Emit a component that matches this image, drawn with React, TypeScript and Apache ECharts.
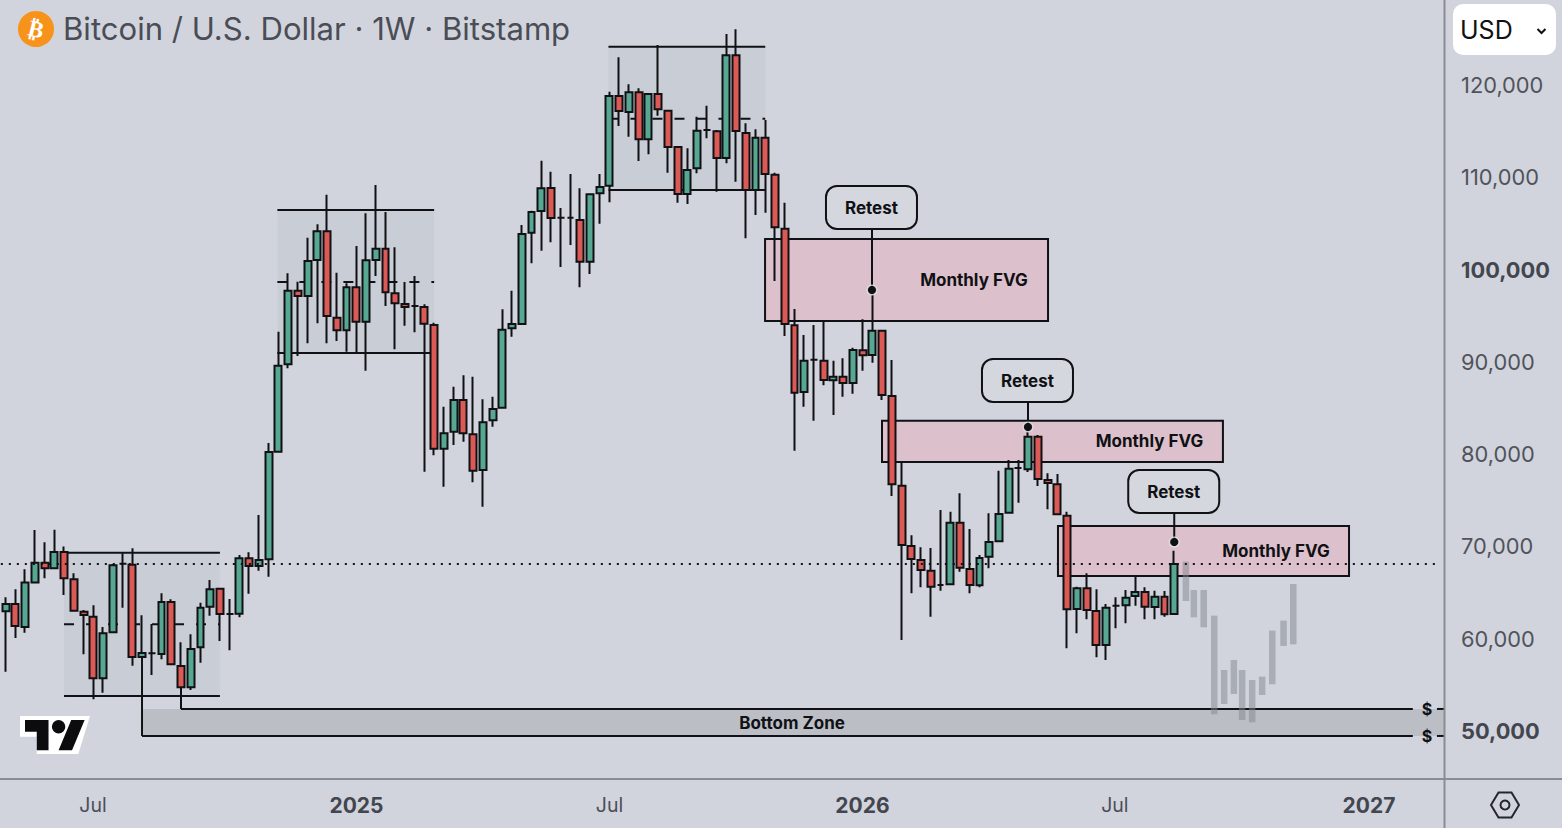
import React, { useEffect, useRef } from "react";
import * as echarts from "echarts";

const opens = [62889,63683,61190,66000,68162,67548,69318,66356,62853,62311,55630,60614,68054,67945,57941,58338,58266,63900,56966,54654,58988,63394,65345,62600,62636,68632,67800,68523,80189,89652,97634,97056,100956,104062,94708,93335,97995,94275,100956,102184,97345,96189,95972,95864,93914,80514,82356,85787,82067,78203,83584,84957,93553,94022,103918,106265,108757,105542,105542,105290,100775,108179,109010,118725,116992,119122,114030,118942,117136,113199,108107,110888,115041,114897,112007,123132,114716,108540,114211,110202,104351,93877,86654,90158,90049,87918,88315,87630,91169,90663,93300,86220,76505,69968,68450,67295,65742,65814,72496,67476,65706,68813,70473,73580,78419,78275,81814,77119,76649,73254,63142,65381,62925,59241,63503,63539,64550,64983,63358,64478,62600];
const closes = [63683,61300,66000,68162,67548,69318,66465,62961,62492,55630,60505,67873,68054,57941,58374,58338,63900,57146,54654,58808,63286,65273,62600,62600,68632,67800,68451,80153,89508,97634,97056,100848,104062,94889,93335,97995,94275,100920,102184,97453,96261,95864,95972,94058,80514,82176,85787,82176,78130,83368,84812,93408,94022,103773,106156,108721,105506,105542,105542,100775,108071,108866,118725,117100,119122,114030,118942,117281,113199,108107,110708,114969,115041,112007,123132,114933,108540,114211,110274,104495,94022,86582,90049,90158,87954,88315,87630,91205,90627,93300,86329,76649,70076,68559,67367,65561,65742,72496,67621,65742,68669,70401,73435,78347,78419,81814,77227,76794,73398,63106,65381,63034,59241,63286,63503,64370,64983,63394,64478,62564,68017];
const highs = [64406,65273,67440,71700,70365,71738,69900,67006,63033,63539,61190,68018,69173,69715,62455,61517,64839,64189,59530,60400,63828,66284,65345,64225,68993,69282,73327,81128,93191,99512,98609,103376,104821,108035,99584,98428,102473,106013,109083,106157,102329,98573,99223,96153,94167,85065,87232,88460,88315,85859,86149,95611,97634,104748,106300,111718,110527,106590,110274,108721,108179,110274,119195,122915,119989,119556,118942,124251,117208,113308,113055,116486,117678,115041,125443,125949,115764,115113,116125,110418,107168,95647,92830,93914,94275,90049,90302,91457,94528,97706,93300,90123,78997,71123,69823,69750,73868,73688,75674,71810,68993,73507,78130,79286,79286,82862,81995,77841,77769,73688,65561,67006,65273,63683,64406,65200,66645,65489,65128,65092,69462];
const lows = [56352,60000,60578,65923,66465,67440,64660,62961,58230,53354,54076,60541,63286,57000,57941,55990,57688,57146,54654,54365,57327,62420,59674,58663,62240,64803,67295,66645,80117,89218,90554,91927,94094,91927,92180,91024,90916,88966,99223,95972,91277,93841,93119,78022,79792,76397,80912,81273,76866,74230,82898,84957,92649,94022,100595,101967,102869,100197,102581,97994,99439,104892,107204,115475,114319,111682,112405,116594,110418,107168,107024,110346,114138,108360,111429,109443,103303,105832,106085,98680,92722,80297,85065,83548,87377,84162,86149,86474,88966,89832,85787,75385,59783,64839,65489,62311,65128,65706,67187,64839,65489,67548,70473,73580,74663,77986,76469,73941,73398,58880,60505,62022,57904,57615,61047,61589,63503,62022,62022,62311,62600];

const tickWeeks = [8.96, 36.02, 62.0, 87.98, 113.9, 140.0];
const tickLabels = ["Jul", "2025", "Jul", "2026", "Jul", "2027"];

const ghostWeeks = [121.17, 121.99, 123.0, 124.08, 125.1, 126.1, 126.95, 127.98, 129.0, 130.04, 131.2, 132.2];
const ghostTops = [68270, 65200, 65200, 62420, 56532, 57615, 56532, 55448, 55809, 60794, 61878, 65850];
const ghostBottoms = [64008, 62239, 61155, 51729, 52848, 53932, 51115, 50862, 53824, 54980, 59133, 59313];

const rangeStarts = [5.99, 27.9, 61.9];
const rangeEnds = [22, 44, 78];
const rangeHighs = [69242, 106374, 124067];
const rangeMids = [61480, 98573, 116266];
const rangeLows = [53716, 90880, 108541];

const fvgStarts = [77.98, 89.99, 108.06];
const fvgEnds = [107.04, 125, 137.95];
const fvgTops = [103232, 83544, 72135];
const fvgBottoms = [94347, 79070, 66718];
const fvgLabelWeeks = [99.43, 117.46, 130.45];
const fvgLabelPrices = [98790, 81350, 69430];

const retestWeeks = [88.96, 104.98, 120];
const retestDots = [97706, 82862, 70402];
const retestBoxBottoms = [104316, 85570, 73544];

const zoneTop = 52307;
const zoneBottom = 49382;
const zoneStartTop = 18;
const zoneStartBottom = 14;
const zoneLineEnd = 144.5;
const zoneFillEnd = 147.7;
const zoneTopAnchor = 54654;
const zoneBottomAnchor = 57941;
const lastPrice = 68018;

const WEEKS = 148;
const INK = "#101114";
const categories = Array.from({ length: WEEKS }, (_, i) => "w" + i);

echarts.graphic.registerShape(
  "tvlogo",
  echarts.graphic.extendPath(
    "M14 22H7V11H0V4h14v18zM28 22h-8l7.5-18h8L28 22zM16 8a4 4 0 1 0 8 0a4 4 0 1 0-8 0z",
    {}
  )
);

const line = (x1: number, y1: number, x2: number, y2: number, extra: any = {}) => ({
  type: "line",
  shape: { x1, y1, x2, y2 },
  style: { stroke: INK, lineWidth: 2, ...extra },
});

export default function App() {
  const ref = useRef<HTMLDivElement>(null);
  useEffect(() => {
    document.body.style.margin = "0";
    document.body.style.background = "#d1d4dc";
    const chart = echarts.init(ref.current!, undefined, { renderer: "svg" });
    const option: any = {
      animation: false,
      backgroundColor: "#d1d4dc",
      tooltip: { show: false },
      grid: { left: 0.83, top: 0, width: 1441.2, height: 776.4 },
      xAxis: [
        {
          type: "category",
          data: categories,
          boundaryGap: true,
          axisLine: { show: false },
          axisTick: { show: false },
          splitLine: { show: false },
          axisLabel: { show: false },
        },
        {
          type: "value",
          min: -0.5,
          max: WEEKS - 0.5,
          position: "bottom",
          offset: 2.6,
          axisLine: { show: false },
          axisTick: { show: false },
          splitLine: { show: false },
          axisLabel: {
            customValues: tickWeeks,
            hideOverlap: false,
            margin: 16,
            formatter: (v: number) => {
              const s = tickLabels[tickWeeks.indexOf(v)];
              return /^\d/.test(s) ? `{b|${s}}` : `{r|${s}}`;
            },
            rich: {
              b: { fontFamily: "Inter", fontSize: 21, fontWeight: 700, color: "#43464e" },
              r: { fontFamily: "Inter", fontSize: 19.5, fontWeight: 400, color: "#4c4f57" },
            },
          },
        },
      ],
      yAxis: {
        type: "value",
        position: "right",
        min: 45000,
        max: 129127,
        interval: 5000,
        axisLine: { show: false },
        axisTick: { show: false },
        splitLine: { show: false },
        axisLabel: {
          margin: 19,
          align: "left",
          formatter: (v: number) => {
            if (v % 10000 !== 0 || v < 50000 || v > 120000) return "";
            const s = v.toLocaleString("en-US");
            return v === 100000 || v === 50000 ? `{b|${s}}` : `{r|${s}}`;
          },
          rich: {
            b: { fontFamily: "Inter", fontSize: 21.8, fontWeight: 700, color: "#43464e", padding: [1.5, 0, 0, 0] },
            r: { fontFamily: "Inter", fontSize: 21.8, fontWeight: 400, color: "#50535b", padding: [1.5, 0, 0, 0] },
          },
        },
      },
      series: [
        {
          type: "custom",
          name: "Ranges",
          xAxisIndex: 1,
          z: 1,
          data: rangeStarts.map((s, i) => [s, rangeHighs[i], rangeEnds[i], rangeLows[i], rangeMids[i]]),
          renderItem: (_: any, api: any) => {
            const a = api.coord([api.value(0), api.value(1)]);
            const b = api.coord([api.value(2), api.value(3)]);
            const m = api.coord([api.value(0), api.value(4)]);
            return {
              type: "group",
              children: [
                {
                  type: "rect",
                  shape: { x: a[0], y: a[1], width: b[0] - a[0], height: b[1] - a[1] },
                  style: { fill: "rgba(120,123,134,0.08)" },
                },
                line(a[0], a[1], b[0], a[1]),
                line(a[0], b[1], b[0], b[1]),
                line(a[0], m[1], b[0], m[1], { lineDash: [10, 12] }),
              ],
            };
          },
        },
        {
          type: "custom",
          name: "Bottom Zone",
          xAxisIndex: 1,
          z: 2,
          data: [[zoneStartBottom, zoneTop, zoneFillEnd, zoneBottom]],
          renderItem: (_: any, api: any) => {
            const a = api.coord([zoneStartBottom, zoneTop]);
            const b = api.coord([zoneFillEnd, zoneBottom]);
            const tl = api.coord([zoneStartTop, zoneTopAnchor]);
            const bl = api.coord([zoneStartBottom, zoneBottomAnchor]);
            const e = api.coord([zoneLineEnd, zoneTop]);
            const d1 = api.coord([146.98, zoneTop]);
            const mid = api.coord([80.75, (zoneTop + zoneBottom) / 2]);
            const dollarX = api.coord([145.95, zoneTop])[0];
            const dollar = (y: number) => ({
              type: "text",
              style: { text: "$", x: dollarX, y, fill: INK, font: "700 16px Inter", align: "center", verticalAlign: "middle" },
            });
            return {
              type: "group",
              children: [
                {
                  type: "rect",
                  shape: { x: a[0], y: a[1], width: b[0] - a[0], height: b[1] - a[1] },
                  style: { fill: "#bcbec5" },
                },
                line(tl[0], a[1], e[0], a[1]),
                line(a[0], b[1], e[0], b[1]),
                line(tl[0], tl[1], tl[0], a[1]),
                line(bl[0], bl[1], bl[0], b[1]),
                line(d1[0], a[1], b[0], a[1]),
                line(d1[0], b[1], b[0], b[1]),
                dollar(a[1]),
                dollar(b[1]),
                {
                  type: "text",
                  style: { text: "Bottom Zone", x: mid[0], y: mid[1] + 1, fill: INK, font: "700 17px Inter", align: "center", verticalAlign: "middle" },
                },
              ],
            };
          },
        },
        {
          type: "custom",
          name: "Monthly FVG",
          xAxisIndex: 1,
          z: 3,
          data: fvgStarts.map((s, i) => [s, fvgTops[i], fvgEnds[i], fvgBottoms[i], fvgLabelWeeks[i], fvgLabelPrices[i]]),
          renderItem: (_: any, api: any) => {
            const a = api.coord([api.value(0), api.value(1)]);
            const b = api.coord([api.value(2), api.value(3)]);
            const t = api.coord([api.value(4), api.value(5)]);
            return {
              type: "group",
              children: [
                {
                  type: "rect",
                  shape: { x: a[0], y: a[1], width: b[0] - a[0], height: b[1] - a[1] },
                  style: { fill: "#dcc0cb", stroke: INK, lineWidth: 2 },
                },
                {
                  type: "text",
                  style: { text: "Monthly FVG", x: t[0], y: t[1], fill: INK, font: "700 17px Inter", align: "center", verticalAlign: "middle" },
                },
              ],
            };
          },
        },
        {
          type: "candlestick",
          name: "BTCUSD",
          xAxisIndex: 0,
          z: 5,
          barWidth: 7.4,
          data: opens.map((o, i) => [o, closes[i], lows[i], highs[i]]),
          itemStyle: {
            color: "#56a892",
            color0: "#dc5a55",
            borderColor: INK,
            borderColor0: INK,
            borderColorDoji: INK,
            borderWidth: 2,
          },
        },
        {
          type: "custom",
          name: "Projection",
          xAxisIndex: 1,
          z: 6,
          data: ghostWeeks.map((w, i) => [w, ghostTops[i], ghostBottoms[i]]),
          renderItem: (_: any, api: any) => {
            const a = api.coord([api.value(0), api.value(1)]);
            const b = api.coord([api.value(0), api.value(2)]);
            return {
              type: "rect",
              shape: { x: a[0] - 3, y: a[1], width: 6.5, height: b[1] - a[1] },
              style: { fill: "rgba(130,133,142,0.5)" },
            };
          },
        },
        {
          type: "custom",
          name: "Last price",
          xAxisIndex: 1,
          z: 7,
          data: [[-0.5, lastPrice]],
          renderItem: (_: any, api: any) => {
            const a = api.coord([-0.5, lastPrice]);
            const b = api.coord([147.3, lastPrice]);
            return line(a[0], a[1], b[0], a[1], { lineWidth: 2, lineDash: [2, 6] });
          },
        },
        {
          type: "custom",
          name: "Retest",
          xAxisIndex: 1,
          z: 8,
          data: retestWeeks.map((w, i) => [w, retestDots[i], retestBoxBottoms[i]]),
          renderItem: (_: any, api: any) => {
            const d = api.coord([api.value(0), api.value(1)]);
            const b = api.coord([api.value(0), api.value(2)]);
            return {
              type: "group",
              children: [
                line(d[0], b[1], d[0], d[1]),
                {
                  type: "rect",
                  shape: { x: d[0] - 46, y: b[1] - 43, width: 91, height: 43, r: 11 },
                  style: { fill: "#d4d7de", stroke: INK, lineWidth: 2 },
                },
                {
                  type: "text",
                  style: { text: "Retest", x: d[0] - 0.5, y: b[1] - 21, fill: INK, font: "700 17px Inter", align: "center", verticalAlign: "middle" },
                },
                {
                  type: "circle",
                  shape: { cx: d[0], cy: d[1], r: 4.8 },
                  style: { fill: INK, stroke: "rgba(255,255,255,0.75)", lineWidth: 1.4 },
                },
              ],
            };
          },
        },
      ],
      graphic: [
        { type: "line", z: 20, shape: { x1: 1444.5, y1: 0, x2: 1444.5, y2: 828 }, style: { stroke: "#8a8c93", lineWidth: 2 } },
        { type: "line", z: 20, shape: { x1: 0, y1: 779, x2: 1562, y2: 779 }, style: { stroke: "#8a8c93", lineWidth: 2 } },
        { type: "circle", z: 20, shape: { cx: 36, cy: 29, r: 18 }, style: { fill: "#f7931a" } },
        {
          type: "text", z: 21, x: 36, y: 29, rotation: -0.24,
          style: { text: "₿", x: 0, y: 0, fill: "#ffffff", font: "700 23px 'DejaVu Sans'", align: "center", verticalAlign: "middle" },
        },
        {
          type: "text", z: 21,
          style: { text: "Bitcoin / U.S. Dollar · 1W · Bitstamp", x: 63, y: 28.5, fill: "#4a4d55", font: "400 31.1px Inter", align: "left", verticalAlign: "middle" },
        },
        { type: "rect", z: 20, shape: { x: 1453, y: 4, width: 103, height: 51, r: 10 }, style: { fill: "#ffffff" } },
        {
          type: "text", z: 21,
          style: { text: "USD", x: 1460, y: 30, fill: "#111111", font: "400 25px Inter", align: "left", verticalAlign: "middle" },
        },
        { type: "polyline", z: 21, shape: { points: [[1537.5, 29], [1541.5, 33], [1545.5, 29]] }, style: { stroke: "#111111", lineWidth: 2, fill: "none" } },
        {
          type: "polygon", z: 21,
          shape: { points: [[1491, 805], [1498.5, 792.5], [1511.5, 792.5], [1519, 805], [1511.5, 817.5], [1498.5, 817.5]] },
          style: { stroke: "#24262b", lineWidth: 2, fill: "none" },
        },
        { type: "circle", z: 21, shape: { cx: 1505, cy: 805, r: 4.5 }, style: { stroke: "#24262b", lineWidth: 2, fill: "none" } },
        {
          type: "polygon", z: 20,
          shape: { points: [[20, 716], [90, 716], [78.3, 754], [36.7, 754], [36.7, 736.7], [20, 736.7]] },
          style: { fill: "#ffffff" },
        },
        { type: "tvlogo", z: 21, x: 25, y: 713.3, scaleX: 1.68, scaleY: 1.68, style: { fill: "#0c0c0e" } },
      ],
    };
    chart.setOption(option);
    return () => chart.dispose();
  }, []);
  return <div ref={ref} style={{ position: "fixed", left: 0, top: 0, width: 1562, height: 828 }} />;
}
